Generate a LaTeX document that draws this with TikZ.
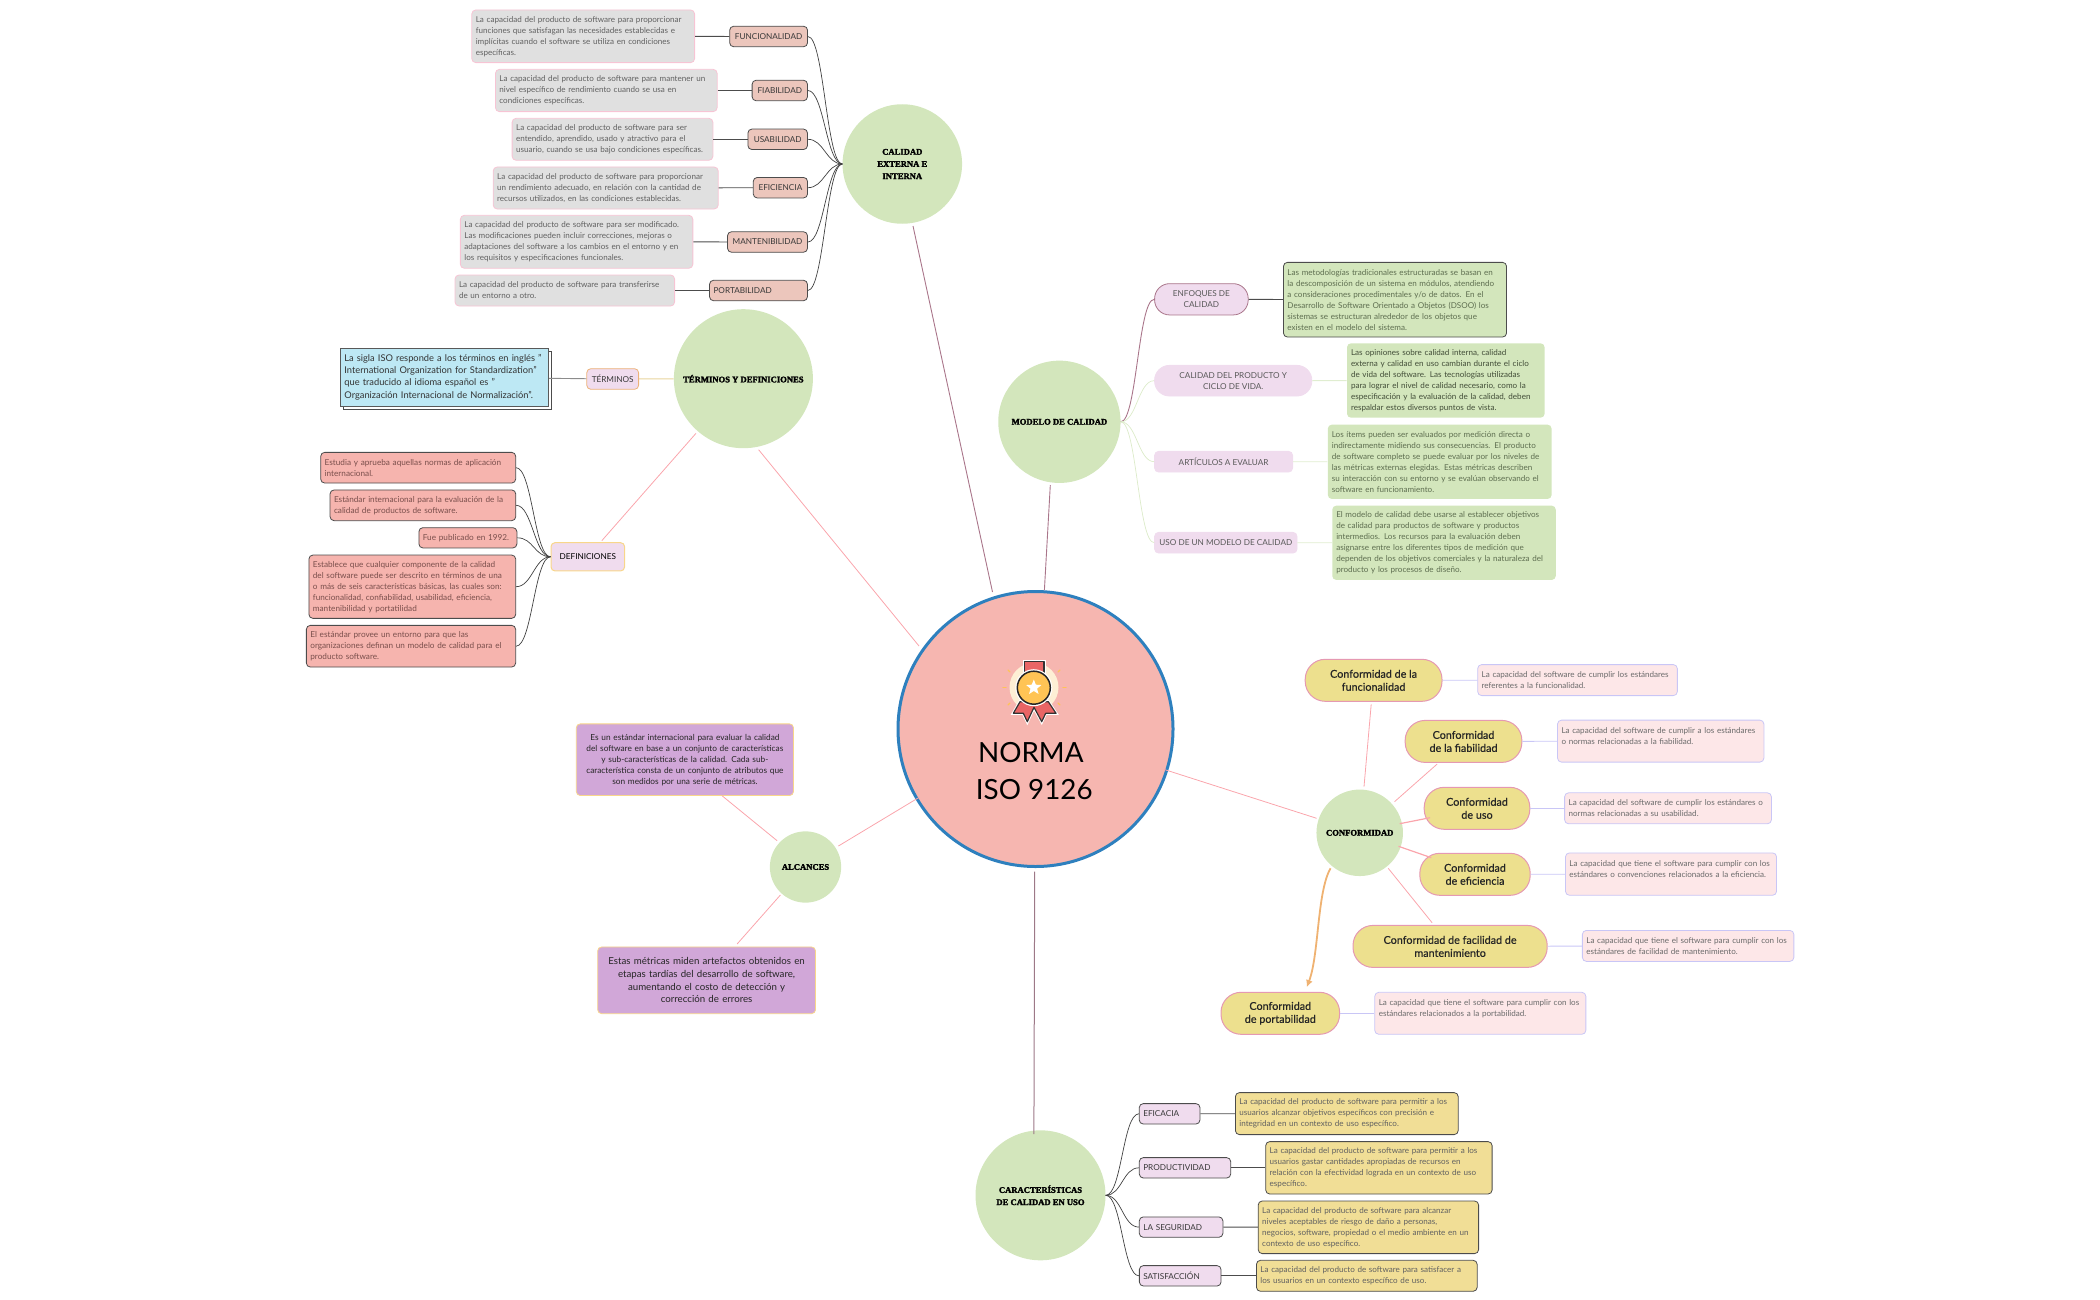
\documentclass[tikz,border=0pt]{standalone}
\usepackage{tikz}
\usepackage{xcolor}
\usepackage{fontspec}
\setmainfont{Lato}
\newfontfamily\tituloletra[FakeBold=2.4]{Liberation Serif Bold}
\newfontfamily\pastillaletra[FakeBold=.5]{Lato}
\usetikzlibrary{shapes.geometric,shapes.symbols,arrows.meta}
\definecolor{verdetema}{HTML}{D3E6BC}
\definecolor{rosacentro}{HTML}{F6B6B0}
\definecolor{azulcentro}{HTML}{2E80BE}
\definecolor{malva}{HTML}{F0DCEE}
\definecolor{rosaclaro}{HTML}{FDE7E8}
\definecolor{salmon}{HTML}{ECC6BC}
\definecolor{mostaza}{HTML}{EDE08E}
\definecolor{arena}{HTML}{F1DE96}
\definecolor{lila}{HTML}{D1A7D8}
\definecolor{celeste}{HTML}{BDE8F4}
\definecolor{rojizo}{HTML}{F6B4AE}
\definecolor{linearosa}{HTML}{FAA5AC}
\definecolor{lineamalva}{HTML}{A9758A}
\definecolor{bordegris}{HTML}{F7C4D4}
\definecolor{bordelila}{HTML}{F8D68A}
\definecolor{bordeconf}{HTML}{C9C6F6}
\definecolor{textorojo}{HTML}{7A4F4C}
\definecolor{textoverde}{HTML}{5E6E50}
\definecolor{cinta}{HTML}{E96565}
\definecolor{oro}{HTML}{FFC455}
\definecolor{halo}{HTML}{FDEFD5}
\definecolor{flecha}{HTML}{EFB272}
\definecolor{lineatan}{HTML}{E8D49C}
\tikzset{
	tam/.style 2 args={minimum width=#1pt,minimum height=#2pt,text width=#1pt-8pt},
	tema/.style={ellipse,fill=verdetema,inner sep=-25pt,align=center,font=\tituloletra\fontsize{8.6}{12.2}\selectfont,text=black},
	caja/.style={rectangle,rounded corners=4pt,inner xsep=4pt,inner ysep=0pt,align=left,line width=.8pt,font=\fontsize{8.07}{11}\selectfont},
	gris/.style={caja,fill=black!12,draw=bordegris,text=black!62},
	roja/.style={caja,fill=rojizo,draw=black!70,text=textorojo,font=\fontsize{8.2}{11}\selectfont},
	etiqueta/.style={rectangle,rounded corners=4pt,draw=black!70,line width=.8pt,inner sep=0pt,font=\fontsize{8.2}{11}\selectfont,text=black!78},
	rama/.style={draw=black!75,line width=.7pt,to path={.. controls +(16,0) and +(-16,0) .. (\tikztotarget)}},
	ramaclara/.style={rama,draw=verdetema!80},
	recta/.style={draw=black!70,line width=.9pt},
	finarosa/.style={draw=linearosa,line width=.8pt},
	finamalva/.style={draw=lineamalva,line width=.9pt},
	cintas/.style={fill=cinta,draw=black!80,line width=1.2pt,line join=round,preaction={draw=white,line width=3pt}},
}
\begin{document}
\begin{tikzpicture}[x=1pt,y=-1pt]
	\useasboundingbox (0,0) rectangle (2100,1300);
	% centro
	\node[circle,fill=rosacentro,draw=azulcentro,line width=3pt,minimum size=275pt,inner sep=0pt] (norma) at (1035.5,729) {};
	\node[font=\fontsize{27.8}{36.5}\selectfont,align=center,text=black] (normatxt) at (1034.3,771) {NORMA\kern7pt\\ISO 9126};
	% medalla
	\fill[halo] (1034,687.3) circle (24.5);
	\draw[oro,line width=1.2pt,line cap=round] (1008,670) -- (1010,672);
	\draw[oro,line width=1.2pt,line cap=round] (1003,687.3) -- (1006,687.3);
	\draw[oro,line width=1.2pt,line cap=round] (1008,705) -- (1010,703);
	\draw[oro,line width=1.2pt,line cap=round] (1060,670) -- (1058,672);
	\draw[oro,line width=1.2pt,line cap=round] (1063,687.3) -- (1066,687.3);
	\draw[oro,line width=1.2pt,line cap=round] (1060,705) -- (1058,703);
	\draw[cintas] (1024.3,661.7) -- (1044,661.7) -- (1044,676) -- (1024.3,676) -- cycle;
	\draw[cintas] (1020,701.7) -- (1013.3,713.3) -- (1023.3,713.3) -- (1027.3,721.7) -- (1034,707.3) -- (1041.7,721.7) -- (1045.7,713.3) -- (1056,713.3) -- (1048.3,701.7) -- cycle;
	\fill[white] (1033.8,687.7) circle (18.5);
	\draw[fill=oro,draw=black!85,line width=1.5pt] (1033.8,687.7) circle (16.5);
	\node[star,star points=5,star point ratio=2.3,fill=white,inner sep=0pt,minimum size=16pt] (estrella) at (1033.8,687.5) {};

	% calidad externa e interna
	\node[tema,minimum size=119.5pt] (calext) at (902.3,164) {CALIDAD\\EXTERNA E\\INTERNA};
	\node[gris,tam={222.8}{52.7}] (tfun) at (583.2,36.3) {La capacidad del producto de software para proporcionar\\funciones que satisfagan las necesidades establecidas e\\implícitas cuando el software se utiliza en condiciones\\específicas.};
	\node[gris,tam={221.7}{42.3}] (tfia) at (606.3,90.5) {La capacidad del producto de software para mantener un\\nivel específico de rendimiento cuando se usa en\\condiciones específicas.};
	\node[gris,tam={200.8}{42}] (tusa) at (612.5,139.3) {La capacidad del producto de software para ser\\entendido, aprendido, usado y atractivo para el\\usuario, cuando se usa bajo condiciones específicas.};
	\node[gris,tam={225}{42}] (tefi) at (605.7,188) {La capacidad del producto de software para proporcionar\\un rendimiento adecuado, en relación con la cantidad de\\recursos utilizados, en las condiciones establecidas.};
	\node[gris,tam={232.5}{53}] (tman) at (576.6,241.8) {La capacidad del producto de software para ser modificado.\\Las modificaciones pueden incluir correcciones, mejoras o\\adaptaciones del software a los cambios en el entorno y en\\los requisitos y especificaciones funcionales.};
	\node[gris,tam={219.6}{31}] (tpor) at (564.8,290.5) {La capacidad del producto de software para transferirse\\de un entorno a otro.};
	\node[etiqueta,fill=salmon,minimum width=77.9pt,minimum height=20.5pt] (fun) at (768.6,36.5) {FUNCIONALIDAD};
	\node[etiqueta,fill=salmon,minimum width=55.4pt,minimum height=20.5pt] (fia) at (779.8,90.5) {FIABILIDAD};
	\node[etiqueta,fill=salmon,minimum width=59.6pt,minimum height=20.5pt] (usa) at (777.7,139.3) {USABILIDAD};
	\node[etiqueta,fill=salmon,minimum width=54.3pt,minimum height=20.5pt] (efi) at (780.4,187.7) {EFICIENCIA};
	\node[etiqueta,fill=salmon,minimum width=80pt,minimum height=20.5pt] (man) at (767.5,242) {MANTENIBILIDAD};
	\node[etiqueta,fill=salmon,tam={97.9}{20.5},align=left] (por) at (758.5,290.5) {PORTABILIDAD};
	\draw[recta] (tfun) -- (fun);
	\draw[recta] (tfia) -- (fia);
	\draw[recta] (tusa) -- (usa);
	\draw[recta] (tefi) -- (efi);
	\draw[recta] (tman) -- (man);
	\draw[recta] (tpor) -- (por);
	\draw[rama] (fun.east) to (calext.west);
	\draw[rama] (fia.east) to (calext.west);
	\draw[rama] (usa.east) to (calext.west);
	\draw[rama] (efi.east) to (calext.west);
	\draw[rama] (man.east) to (calext.west);
	\draw[rama] (por.east) to (calext.west);
	\coordinate (cala) at (913,226);
	\coordinate (calb) at (992.5,592);
	\draw[finamalva] (cala) -- (calb);

	% terminos y definiciones
	\node[tema,minimum size=139pt] (term) at (743.4,378.7) {TÉRMINOS Y DEFINICIONES};
	\node[rectangle,draw=black!70,fill=white,line width=.8pt,minimum width=208.2pt,minimum height=57.7pt,inner sep=0pt] (notasombra) at (447.7,380.5) {};
	\node[caja,rounded corners=0pt,fill=celeste,draw=black!65,tam={208.2}{57.7},font=\fontsize{9.3}{12.1}\selectfont,text=black!80] (nota) at (444.5,377.2) {La sigla ISO responde a los términos en inglés "\\International Organization for Standardization"\\que traducido al idioma español es "\\Organización Internacional de Normalización".};
	\node[etiqueta,fill=malva,draw=orange!50!brown!60,minimum width=51.8pt,minimum height=20.6pt] (terminos) at (612.7,379) {TÉRMINOS};
	\draw[recta,black!45] (nota) -- (terminos);
	\draw[line width=.9pt,draw=lineatan] (terminos) -- (term);
	\node[etiqueta,fill=malva,draw=bordelila,line width=1pt,text=black,minimum width=73.6pt,minimum height=28.3pt] (defi) at (587.8,556.8) {DEFINICIONES};
	\node[roja,tam={195}{30.7}] (d1) at (418.2,467.7) {Estudia y aprueba aquellas normas de aplicación\\internacional.};
	\node[roja,tam={185.7}{30.7}] (d2) at (422.9,505.3) {Estándar internacional para la evaluación de la\\calidad de productos de software.};
	\node[roja,tam={95.7}{20.3},text width=90pt] (d3) at (467.9,537.8) {Fue publicado en 1992.};
	\node[roja,tam={206.8}{63.3}] (d4) at (412.3,586.7) {Establece que cualquier componente de la calidad\\del software puede ser descrito en términos de una\\o más de seis características básicas, las cuales son:\\funcionalidad, confiabilidad, usabilidad, eficiencia,\\mantenibilidad y portatilidad};
	\node[roja,tam={209.3}{41.7}] (d5) at (411,646.2) {El estándar provee un entorno para que las\\organizaciones definan un modelo de calidad para el\\producto software.};
	\draw[rama] (d1.east) to (defi.west);
	\draw[rama] (d2.east) to (defi.west);
	\draw[rama] (d3.east) to (defi.west);
	\draw[rama] (d4.east) to (defi.west);
	\draw[rama] (d5.east) to (defi.west);
	\coordinate (defa) at (601.8,540.7);
	\coordinate (defb) at (696,433.3);
	\draw[finarosa] (defa) -- (defb);
	\coordinate (tera) at (758.6,449.7);
	\coordinate (terb) at (919,646);
	\draw[finarosa] (tera) -- (terb);

	% modelo de calidad
	\node[tema,minimum size=122.3pt] (modelo) at (1059.4,421.8) {MODELO DE CALIDAD};
	\node[etiqueta,fill=malva,draw=lineamalva,rounded corners=15pt,align=center,minimum width=93.6pt,minimum height=31.3pt,text=black!65] (enf) at (1201.4,299.3) {ENFOQUES DE\\CALIDAD};
	\node[etiqueta,fill=malva,draw=malva,rounded corners=15pt,align=center,minimum width=157.3pt,minimum height=30.7pt,text=black!65] (cpro) at (1233.2,380.7) {CALIDAD DEL PRODUCTO Y\\CICLO DE VIDA.};
	\node[etiqueta,fill=malva,draw=malva,minimum width=138pt,minimum height=20.7pt,text=black!65] (art) at (1223.6,461.7) {ARTÍCULOS A EVALUAR};
	\node[etiqueta,fill=malva,draw=malva,minimum width=142.4pt,minimum height=20.7pt,text=black!65] (uso) at (1225.8,542.7) {USO DE UN MODELO DE CALIDAD};
	\node[caja,fill=verdetema,draw=black!70,text=textoverde,tam={223.1}{74.7}] (m1) at (1395,299.7) {Las metodologías tradicionales estructuradas se basan en\\la descomposición de un sistema en módulos, atendiendo\\a consideraciones procedimentales y/o de datos. En el\\Desarrollo de Software Orientado a Objetos (DSOO) los\\sistemas se estructuran alrededor de los objetos que\\existen en el modelo del sistema.};
	\node[caja,fill=verdetema,text=textoverde!70!black,tam={197.6}{74.4}] (m2) at (1445.8,380.5) {Las opiniones sobre calidad interna, calidad\\externa y calidad en uso cambian durante el ciclo\\de vida del software. Las tecnologías utilizadas\\para lograr el nivel de calidad necesario, como la\\especificación y la evaluación de la calidad, deben\\respaldar estos diversos puntos de vista.};
	\node[caja,fill=verdetema,text=textoverde,tam={223.8}{74.3}] (m3) at (1439.7,461.8) {Los ítems pueden ser evaluados por medición directa o\\indirectamente midiendo sus consecuencias. El producto\\de software completo se puede evaluar por los niveles de\\las métricas externas elegidas. Estas métricas describen\\su interacción con su entorno y se evalúan observando el\\software en funcionamiento.};
	\node[caja,fill=verdetema,text=textoverde,tam={223.5}{74.3}] (m4) at (1444,542.8) {El modelo de calidad debe usarse al establecer objetivos\\de calidad para productos de software y productos\\intermedios. Los recursos para la evaluación deben\\asignarse entre los diferentes tipos de medición que\\dependen de los objetivos comerciales y la naturaleza del\\producto y los procesos de diseño.};
	\draw[recta] (enf) -- (m1);
	\draw[line width=.9pt,draw=verdetema!70] (cpro) -- (m2);
	\draw[line width=.9pt,draw=verdetema!70] (art) -- (m3);
	\draw[line width=.9pt,draw=verdetema!70] (uso) -- (m4);
	\draw[rama,finamalva] (modelo.east) to (enf.west);
	\draw[ramaclara] (modelo.east) to (cpro.west);
	\draw[ramaclara] (modelo.east) to (art.west);
	\draw[ramaclara] (modelo.east) to (uso.west);
	\coordinate (moda) at (1050.3,485);
	\coordinate (modb) at (1044.4,590);
	\draw[finamalva] (moda) -- (modb);

	% conformidad
	\node[tema,minimum size=86.5pt] (conf) at (1359.7,832.8) {CONFORMIDAD};
	\tikzset{pastilla/.style={rectangle,rounded corners=20pt,fill=mostaza,draw=pink!80!violet,line width=1pt,align=center,inner sep=0pt,minimum height=42pt,font=\pastillaletra\fontsize{10.8}{13}\selectfont,text=black!85},
		cajaconf/.style={caja,fill=rosaclaro,draw=bordeconf,text=black!58}}
	\node[pastilla,minimum width=136.8pt] (cf1) at (1373.6,680.3) {Conformidad de la\\funcionalidad};
	\node[pastilla,minimum width=116.7pt] (cf2) at (1463.5,741.4) {Conformidad\\de la fiabilidad};
	\node[pastilla,minimum width=105.6pt] (cf3) at (1477,808.3) {Conformidad\\de uso};
	\node[pastilla,minimum width=110.4pt] (cf4) at (1475,874.3) {Conformidad\\de eficiencia};
	\node[pastilla,minimum width=194.2pt] (cf5) at (1450.1,946.4) {Conformidad de facilidad de\\mantenimiento};
	\node[pastilla,minimum width=118.6pt] (cf6) at (1280.3,1013.3) {Conformidad\\de portabilidad};
	\node[cajaconf,tam={199.7}{31}] (b1) at (1577.5,680.1) {La capacidad del software de cumplir los estándares\\referentes a la funcionalidad.};
	\node[cajaconf,tam={206.4}{42}] (b2) at (1660.7,741.1) {La capacidad del software de cumplir a los estándares\\o normas relacionadas a la fiabilidad.\\~};
	\node[cajaconf,tam={206.8}{31}] (b3) at (1668,808.3) {La capacidad del software de cumplir los estándares o\\normas relacionadas a su usabilidad.};
	\node[cajaconf,tam={211.1}{42.4}] (b4) at (1671,874.1) {La capacidad que tiene el software para cumplir con los\\estándares o convenciones relacionados a la eficiencia.\\~};
	\node[cajaconf,tam={211.5}{31}] (b5) at (1688.1,945.9) {La capacidad que tiene el software para cumplir con los\\estándares de facilidad de mantenimiento.};
	\node[cajaconf,tam={211.1}{42}] (b6) at (1480.3,1013.3) {La capacidad que tiene el software para cumplir con los\\estándares relacionados a la portabilidad.\\~};
	\draw[line width=.9pt,draw=bordeconf] (cf1) -- (b1);
	\draw[line width=.9pt,draw=bordeconf] (cf2) -- (b2);
	\draw[line width=.9pt,draw=bordeconf] (cf3) -- (b3);
	\draw[line width=.9pt,draw=bordeconf] (cf4) -- (b4);
	\draw[line width=.9pt,draw=bordeconf] (cf5) -- (b5);
	\draw[line width=.9pt,draw=bordeconf] (cf6) -- (b6);
	\coordinate (nca) at (1164,769.4);
	\coordinate (ncb) at (1316.6,818.3);
	\draw[finarosa] (nca) -- (ncb);
	\coordinate (f1a) at (1364,786.7);
	\coordinate (f1b) at (1371.2,704.3);
	\draw[finarosa] (f1a) -- (f1b);
	\coordinate (f2a) at (1394.5,801.7);
	\coordinate (f2b) at (1437.2,764);
	\draw[finarosa] (f2a) -- (f2b);
	\coordinate (f3a) at (1399.7,823.7);
	\coordinate (f3b) at (1430.1,817.7);
	\draw[finarosa,line width=1.2pt] (f3a) -- (f3b);
	\coordinate (f4a) at (1398.5,846.3);
	\coordinate (f4b) at (1431.3,857.7);
	\draw[finarosa,line width=1.2pt] (f4a) -- (f4b);
	\coordinate (f5a) at (1388.2,868.3);
	\coordinate (f5b) at (1432.1,922.7);
	\draw[finarosa] (f5a) -- (f5b);
	\coordinate (f6a) at (1330.5,868.3);
	\coordinate (f6b) at (1306.8,987);
	\draw[draw=flecha,line width=1.8pt,-{Latex[length=7pt,width=7pt]}] (f6a) .. controls (1317,892) and (1319,955) .. (f6b);

	% caracteristicas de calidad en uso
	\node[tema,minimum size=130pt] (carac) at (1040.5,1195.3) {CARACTERÍSTICAS\\DE CALIDAD EN USO};
	\node[etiqueta,fill=malva,tam={60.7}{20.4},align=left] (efc) at (1169.6,1113.8) {EFICACIA};
	\node[etiqueta,fill=malva,tam={91.4}{20.4},align=left] (pro) at (1185,1167.8) {PRODUCTIVIDAD};
	\node[etiqueta,fill=malva,tam={83.6}{20.4},align=left] (seg) at (1181.1,1227.1) {LA SEGURIDAD};
	\node[etiqueta,fill=malva,tam={81.7}{20.4},align=left] (sat) at (1180.2,1275.8) {SATISFACCIÓN};
	\tikzset{cajauso/.style={caja,fill=arena,draw=black!70,text=black!62}}
	\node[cajauso,tam={222.8}{42}] (e1) at (1346.8,1113.6) {La capacidad del producto de software para permitir a los\\usuarios alcanzar objetivos específicos con precisión e\\integridad en un contexto de uso específico.};
	\node[cajauso,tam={226.4}{52.4}] (e2) at (1378.9,1167.8) {La capacidad del producto de software para permitir a los\\usuarios gastar cantidades apropiadas de recursos en\\relación con la efectividad lograda en un contexto de uso\\específico.};
	\node[cajauso,tam={220.4}{52.6}] (e3) at (1368.4,1227.3) {La capacidad del producto de software para alcanzar\\niveles aceptables de riesgo de daño a personas,\\negocios, software, propiedad o el medio ambiente en un\\contexto de uso específico.};
	\node[cajauso,tam={220.7}{31}] (e4) at (1366.8,1275.8) {La capacidad del producto de software para satisfacer a\\los usuarios en un contexto específico de uso.};
	\draw[recta] (efc) -- (e1);
	\draw[recta] (pro) -- (e2);
	\draw[recta] (seg) -- (e3);
	\draw[recta] (sat) -- (e4);
	\draw[rama] (carac.east) to (efc.west);
	\draw[rama] (carac.east) to (pro.west);
	\draw[rama] (carac.east) to (seg.west);
	\draw[rama] (carac.east) to (sat.west);
	\coordinate (cara) at (1034.7,871.7);
	\coordinate (carb) at (1033.9,1134);
	\draw[draw=lineamalva!70!gray,line width=1pt] (cara) -- (carb);

	% alcances
	\node[tema,minimum size=71.3pt] (alc) at (805.5,867) {ALCANCES};
	\node[caja,fill=lila,draw=bordelila,text=black!85,align=center,tam={217.2}{71.7},font=\fontsize{8.3}{11}\selectfont] (p1) at (684.9,759.7) {Es un estándar internacional para evaluar la calidad\\del software en base a un conjunto de características\\y sub-características de la calidad. Cada sub-\\característica consta de un conjunto de atributos que\\son medidos por una serie de métricas.};
	\node[caja,fill=lila,draw=bordelila,text=black!85,align=center,tam={217.9}{66.7},font=\fontsize{9.7}{12.6}\selectfont] (p2) at (706.6,980.3) {Estas métricas miden artefactos obtenidos en\\etapas tardías del desarrollo de software,\\aumentando el costo de detección y\\corrección de errores};
	\coordinate (ala) at (919.2,797.3);
	\coordinate (alb) at (838.4,846);
	\draw[finarosa] (ala) -- (alb);
	\coordinate (alc1) at (777.1,840.7);
	\coordinate (alc2) at (722,795.7);
	\draw[finarosa] (alc1) -- (alc2);
	\coordinate (ald1) at (780.4,895);
	\coordinate (ald2) at (737.1,944);
	\draw[finarosa] (ald1) -- (ald2);
\end{tikzpicture}
\end{document}
